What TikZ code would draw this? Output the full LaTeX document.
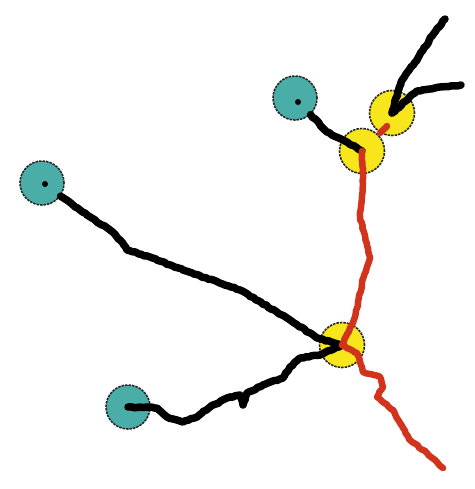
\documentclass[tikz,border=0pt]{standalone}
\usetikzlibrary{decorations.pathmorphing}
\definecolor{tealc}{HTML}{4AADA8}
\definecolor{yelc}{HTML}{F7E61C}
\definecolor{redc}{HTML}{D2331C}
\tikzset{
  tealnode/.style={circle,fill=tealc,draw=black!85,line width=1.6pt,dash pattern=on 2.5pt off 1pt,minimum size=44pt,inner sep=0pt},
  yelnode/.style={circle,fill=yelc,draw=black!85,line width=1.6pt,dash pattern=on 2.5pt off 1pt,minimum size=45pt,inner sep=0pt},
  rough/.style={decorate,decoration={random steps,segment length=3pt,amplitude=0.6pt}},
  wire/.style={rough,draw=black,line width=7.5pt,line join=round,line cap=round},
  redwire/.style={rough,draw=redc,line width=6.5pt,line join=round,line cap=round},
  dotc/.style={circle,fill=black,inner sep=0pt,minimum size=6pt}
}
\begin{document}
\begin{tikzpicture}[x=1pt,y=-1pt]
\pgfmathsetseed{7}
\useasboundingbox (0,0) rectangle (474,489);
% yellow nodes
\node[yelnode] (yU) at (392,113) {};
\node[yelnode] (yM) at (362,151) {};
\node[yelnode] (yL) at (342,345) {};
% teal nodes
\node[tealnode] (tT) at (295,98) {};
\node[tealnode] (tL) at (42,183) {};
\node[tealnode] (tB) at (128,407) {};
% free ends
\coordinate (e1) at (445,19);
\coordinate (e2) at (461,85);
\coordinate (e3) at (443,468);
% black connectors
\draw[wire] (yU.center) -- (401,82) -- (418,58) -- (432,36) -- (e1);
\draw[wire] (yU.center) -- (417,91) -- (440,87) -- (e2);
\draw[wire] (tT) -- (327,132) -- (343,140) -- (yM.center);
\draw[wire] (tL) -- (87,215) -- (110,230) -- (120,240) -- (127,250) -- (150,257) -- (183,270) -- (240,290) -- (287,318) -- (317,338) -- (yL.center);
\draw[wire] (tB.center) -- (157,408) -- (167,417) -- (183,422) -- (197,417) -- (210,407) -- (227,398) -- (240,395) -- (243,405) -- (247,393) -- (263,385) -- (283,378) -- (290,367) -- (300,358) -- (320,355) -- (yL.center);
% red connectors
\draw[redwire] (387,126) -- (380,133);
\draw[redwire] (yM.center) -- (363,183) -- (360,217) -- (370,257) -- (362,283) -- (358,303) -- (353,323) -- (yL.center);
\draw[redwire] (yL.center) -- (357,353) -- (363,372) -- (380,377) -- (383,387) -- (377,397) -- (393,410) -- (400,423) -- (410,440) -- (427,453) -- (e3);
% center dots
\node[dotc] (d1) at (298,102) {};
\node[dotc] (d2) at (45,184) {};
\node[dotc] (d3) at (132,408) {};
\end{tikzpicture}
\end{document}
